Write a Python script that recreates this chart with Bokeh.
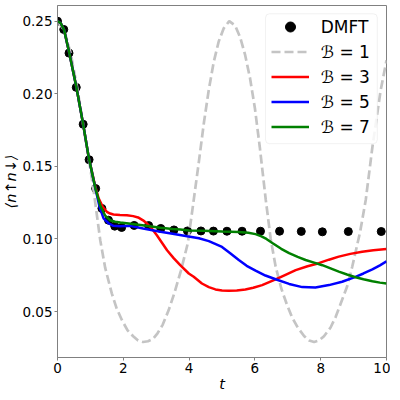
from bokeh.plotting import figure
from bokeh.models import Range1d, FixedTicker, NumeralTickFormatter, Legend, LegendItem, BoxAnnotation
from bokeh.embed import file_html
from bokeh.resources import INLINE

# ---- data ----
t_dmft = [0, 0.19, 0.35, 0.57, 0.78, 0.96, 1.16, 1.35, 1.55, 1.74, 1.95, 2.33, 2.77, 3.14, 3.54, 3.95,
          4.36, 4.74, 5.15, 5.61, 6.17, 6.75, 7.41, 8.05, 8.84, 9.84]
y_dmft = [0.25, 0.2443, 0.228, 0.2044, 0.179, 0.1546, 0.1347, 0.121, 0.1129, 0.1088, 0.1079, 0.1093,
          0.1092, 0.1072, 0.1062, 0.1055, 0.1055, 0.1054, 0.1053, 0.1053, 0.1053, 0.1053, 0.1052,
          0.1049, 0.1051, 0.1051]

t_b1 = [0, 0.2, 0.4, 0.6, 0.8, 1.0, 1.1, 1.2, 1.3, 1.45, 1.65, 1.8, 1.96, 2.13, 2.3, 2.45, 2.6, 2.75,
        2.9, 3.04, 3.2, 3.38, 3.55, 3.75, 3.96, 4.1, 4.29, 4.45, 4.6, 4.75, 4.9, 5.05, 5.22, 5.4, 5.55,
        5.7, 5.85, 6.0, 6.15, 6.33, 6.48, 6.63, 6.8, 6.97, 7.13, 7.3, 7.5, 7.65, 7.8, 7.95, 8.1, 8.3,
        8.45, 8.6, 8.8, 8.96, 9.2, 9.37, 9.57, 9.82, 10.0]
y_b1 = [0.25, 0.244, 0.228, 0.204, 0.176, 0.148, 0.133, 0.116, 0.099, 0.080, 0.0625, 0.052, 0.044,
        0.037, 0.033, 0.030, 0.029, 0.0295, 0.031, 0.035, 0.041, 0.051, 0.0625, 0.078, 0.097, 0.12,
        0.152, 0.180, 0.203, 0.222, 0.236, 0.245, 0.25, 0.247, 0.239, 0.227, 0.211, 0.190, 0.163,
        0.127, 0.100, 0.081, 0.066, 0.055, 0.046, 0.039, 0.033, 0.030, 0.029, 0.030, 0.033, 0.039,
        0.046, 0.055, 0.067, 0.081, 0.105, 0.127, 0.163, 0.202, 0.223]

t_b3 = [0, 0.1, 0.2, 0.35, 0.57, 0.78, 0.95, 1.15, 1.25, 1.38, 1.5, 1.6, 1.7, 1.9, 2.11, 2.3, 2.45,
        2.6, 2.72, 2.87, 3.02, 3.17, 3.33, 3.53, 3.73, 3.99, 4.14, 4.39, 4.6, 4.8, 5.0, 5.2, 5.45,
        5.71, 5.95, 6.22, 6.63, 6.93, 7.24, 7.6, 7.94, 8.25, 8.55, 8.9, 9.26, 9.6, 10.0]
y_b3 = [0.25, 0.2486, 0.244, 0.229, 0.205, 0.179, 0.156, 0.136, 0.128, 0.122, 0.1187, 0.1175, 0.1168,
        0.1165, 0.1163, 0.1157, 0.1148, 0.1128, 0.1106, 0.107, 0.1025, 0.0975, 0.0922, 0.0868,
        0.0819, 0.0762, 0.0739, 0.0693, 0.0668, 0.0652, 0.0645, 0.0643, 0.0645, 0.0652, 0.0664,
        0.0682, 0.0722, 0.0753, 0.0785, 0.0812, 0.0833, 0.0857, 0.0878, 0.0897, 0.0912, 0.0922, 0.093]

t_b5 = [0, 0.1, 0.2, 0.35, 0.57, 0.78, 0.95, 1.15, 1.28, 1.4, 1.55, 1.7, 1.9, 2.21, 2.6, 3.13, 3.5,
        3.94, 4.3, 4.6, 5.0, 5.25, 5.51, 5.75, 6.02, 6.32, 6.63, 7.04, 7.44, 7.84, 8.25, 8.65, 9.06,
        9.3, 9.57, 9.8, 10.0]
y_b5 = [0.25, 0.2486, 0.244, 0.229, 0.205, 0.179, 0.156, 0.135, 0.122, 0.1141, 0.1108, 0.109, 0.1088,
        0.109, 0.1072, 0.1049, 0.1035, 0.1018, 0.1005, 0.0985, 0.0945, 0.0902, 0.0855, 0.0815,
        0.0782, 0.0748, 0.0722, 0.069, 0.0668, 0.0665, 0.0682, 0.0705, 0.0739, 0.0762, 0.079, 0.0818,
        0.0845]

t_b7 = [0, 0.1, 0.2, 0.35, 0.57, 0.78, 0.95, 1.15, 1.3, 1.45, 1.6, 1.75, 1.91, 2.1, 2.41, 2.8, 3.13,
        3.5, 3.73, 4.0, 4.44, 5.0, 5.5, 5.8, 6.02, 6.2, 6.35, 6.53, 6.8, 7.04, 7.3, 7.54, 7.8, 8.05,
        8.3, 8.55, 8.8, 9.06, 9.3, 9.57, 9.8, 10.0]
y_b7 = [0.25, 0.2486, 0.244, 0.229, 0.205, 0.179, 0.156, 0.135, 0.123, 0.116, 0.1129, 0.1118, 0.1113,
        0.1108, 0.110, 0.1088, 0.1077, 0.1068, 0.1065, 0.1058, 0.1057, 0.1052, 0.1048, 0.1042,
        0.1033, 0.1018, 0.1, 0.0972, 0.0932, 0.0902, 0.0876, 0.0855, 0.0837, 0.0819, 0.0797, 0.0775,
        0.0755, 0.0736, 0.0722, 0.0709, 0.0699, 0.0693]

x_ticks = [0, 2, 4, 6, 8, 10]
y_ticks = [0.05, 0.10, 0.15, 0.20, 0.25]
labels = ["DMFT", "ℬ = 1", "ℬ = 3", "ℬ = 5", "ℬ = 7"]

AX = "#808080"
FONT = "DejaVu Sans"

p = figure(frame_width=329, frame_height=352,
           x_range=Range1d(0, 10), y_range=Range1d(0.01832, 0.2608),
           output_backend="svg", toolbar_location=None,
           min_border_left=57, min_border_top=5, min_border_right=4, min_border_bottom=0)
p.background_fill_color = "white"
p.border_fill_color = "white"
p.outline_line_color = AX
p.grid.visible = False

p.xaxis.ticker = FixedTicker(ticks=x_ticks)
p.yaxis.ticker = FixedTicker(ticks=y_ticks)
p.yaxis.formatter = NumeralTickFormatter(format="0.00")
for ax in (p.xaxis[0], p.yaxis[0]):
    ax.minor_tick_line_color = None
    ax.major_tick_in = 0
    ax.major_tick_out = 3
    ax.axis_line_color = AX
    ax.major_tick_line_color = AX
    ax.major_label_text_font = FONT
    ax.major_label_text_font_size = "13.5px"
    ax.major_label_text_color = "black"
    ax.major_label_standoff = 2
    ax.axis_label_text_font = FONT
    ax.axis_label_text_font_size = "14.5px"
    ax.axis_label_text_font_style = "italic"
    ax.axis_label_text_color = "black"
    ax.axis_label_standoff = 0
p.xaxis.axis_label = "t"
p.yaxis.axis_label = "⟨n↑n↓⟩"

r0 = p.scatter(t_dmft, y_dmft, size=8, color="black")
r1 = p.line(t_b1, y_b1, line_color="#c4c4c4", line_width=2.7, line_dash="9 4")
r3 = p.line(t_b3, y_b3, line_color="#ff0000", line_width=2.5)
r5 = p.line(t_b5, y_b5, line_color="#0000ff", line_width=2.5)
r7 = p.line(t_b7, y_b7, line_color="#008000", line_width=2.5)

box = BoxAnnotation(left=6.323, right=9.72, bottom=0.1656, top=0.2551,
                    fill_color="white", fill_alpha=0.85, line_color="#d0d0d0",
                    line_width=1, border_radius=4)
p.add_layout(box)

common = dict(padding=0, margin=0, spacing=0, glyph_width=38, glyph_height=25,
              label_height=25, label_standoff=12, border_line_alpha=0,
              background_fill_alpha=0, label_text_color="black",
              label_text_font_size="17px", label_text_font=FONT)
legA = Legend(items=[LegendItem(label=labels[0], renderers=[r0])],
              location=(213.7, 317.8), **common)
legB = Legend(items=[LegendItem(label=labels[1], renderers=[r1]),
                     LegendItem(label=labels[2], renderers=[r3]),
                     LegendItem(label=labels[3], renderers=[r5]),
                     LegendItem(label=labels[4], renderers=[r7])],
              location=(213.7, 217.8), **common)
p.add_layout(legA)
p.add_layout(legB)

open("out.html", "w").write(file_html(p, INLINE))
